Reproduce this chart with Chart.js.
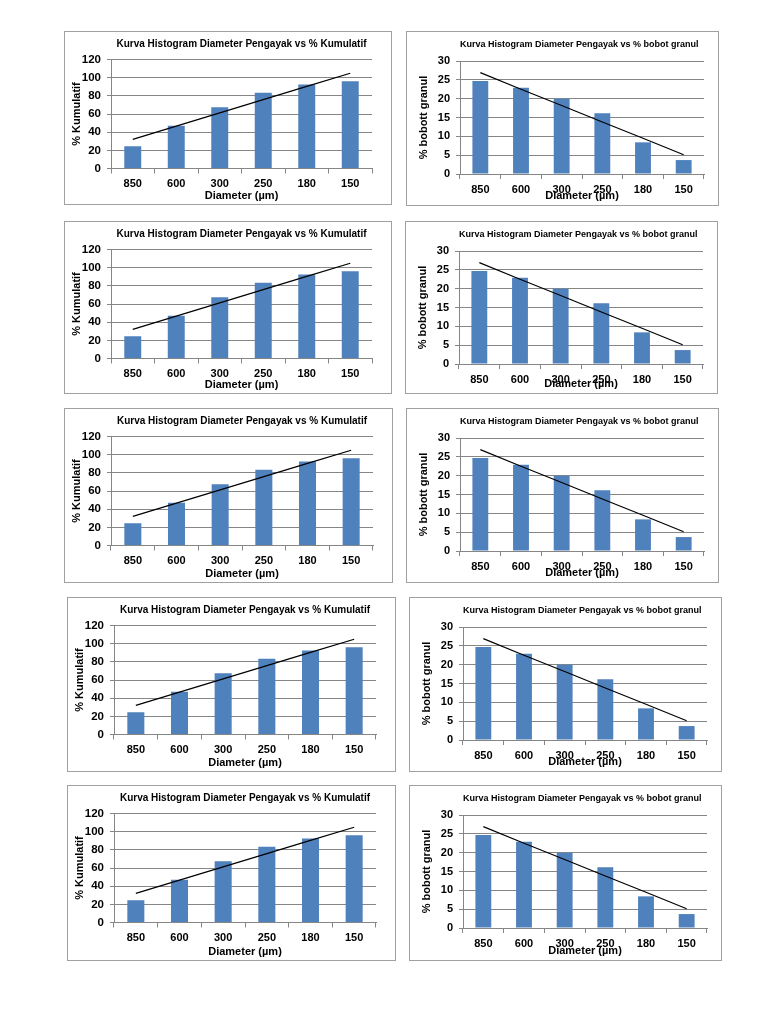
<!DOCTYPE html>
<html><head><meta charset="utf-8">
<script src="https://cdn.jsdelivr.net/npm/chart.js@4.4.0/dist/chart.umd.min.js"></script>
<style>
html,body{margin:0;padding:0;background:#fff;width:768px;height:1024px;overflow:hidden;}
.box{position:absolute;box-shadow:inset 0 0 0 1px #a0a0a0;}
.box canvas{position:absolute;left:0;top:0;}
</style></head><body>
<script>
// ---- data ----
const categories = ['850', '600', '300', '250', '180', '150'];
const kumulatif = [24.5, 47, 67.5, 83.5, 92.5, 96];
const kumulatifTrend = [32.1, 46.7, 61.2, 75.8, 90.4, 104.9];
const bobot = [24.7, 22.9, 20, 16.1, 8.4, 3.7];
const bobotTrend = [26.9, 22.5, 18.2, 13.8, 9.5, 5.1];
const kumulatifTicks = [0, 20, 40, 60, 80, 100, 120];
const bobotTicks = [0, 5, 10, 15, 20, 25, 30];
const titleKumulatif = 'Kurva Histogram Diameter Pengayak vs % Kumulatif';
const titleBobot = 'Kurva Histogram Diameter Pengayak vs % bobot granul';
const xTitle = 'Diameter (µm)';
const yTitleKumulatif = '% Kumulatif';
const yTitleBobot = '% bobott granul';

// ---- layout ----
const boxes = [
  {kind: 'k', x: 64, y: 31, w: 328, h: 174},
  {kind: 'b', x: 406, y: 31, w: 313, h: 175},
  {kind: 'k', x: 64, y: 221, w: 328, h: 173},
  {kind: 'b', x: 405, y: 221, w: 313, h: 173},
  {kind: 'k', x: 64, y: 408, w: 329, h: 175},
  {kind: 'b', x: 406, y: 408, w: 313, h: 175},
  {kind: 'k', x: 67, y: 597, w: 329, h: 175},
  {kind: 'b', x: 409, y: 597, w: 313, h: 175},
  {kind: 'k', x: 67, y: 785, w: 329, h: 176},
  {kind: 'b', x: 409, y: 785, w: 313, h: 176}
];
const kinds = {
  k: {plotLeft: 47, plotRightGap: 20, plotTop: 28.5, plotBottom: 137.5, titleSize: 10, titleCenter: 13,
      titleAlign: 'center', yTitleX: 13, xTitleFromBottom: 9, yTickSize: 11.5, values: kumulatif,
      trend: kumulatifTrend, ticks: kumulatifTicks, title: titleKumulatif, yTitle: yTitleKumulatif},
  b: {plotLeft: 54, plotRightGap: 15, plotTop: 30, plotBottom: 143, titleSize: 9, titleCenter: 13.5,
      titleAlign: 'start', yTitleX: 17.5, xTitleFromBottom: 10, yTickSize: 11, values: bobot,
      trend: bobotTrend, ticks: bobotTicks, title: titleBobot, yTitle: yTitleBobot}
};

const FONT = 'Liberation Sans';
const GRID = '#868686';
Chart.defaults.font.family = FONT;
Chart.defaults.color = '#000';

boxes.forEach(b => {
  const k = kinds[b.kind];
  const div = document.createElement('div');
  div.className = 'box';
  Object.assign(div.style, {left: b.x + 'px', top: b.y + 'px', width: b.w + 'px', height: b.h + 'px'});
  const cv = document.createElement('canvas');
  cv.width = b.w; cv.height = b.h;
  cv.style.width = b.w + 'px'; cv.style.height = b.h + 'px';
  div.appendChild(cv);
  document.body.appendChild(div);

  const tLh = k.titleSize * 1.2;
  const aLh = 11 * 1.2;
  new Chart(cv, {
    type: 'bar',
    data: {
      labels: categories,
      datasets: [
        {type: 'line', data: k.trend, borderColor: '#000', borderWidth: 1.2, pointRadius: 0,
         fill: false, tension: 0, order: 0},
        {type: 'bar', data: k.values, backgroundColor: '#4f81bd', borderWidth: 0,
         barPercentage: 0.39, categoryPercentage: 1, order: 1}
      ]
    },
    options: {
      responsive: false,
      animation: false,
      events: [],
      layout: {padding: {left: 0, right: k.plotRightGap, top: 0, bottom: 0}},
      plugins: {
        legend: {display: false},
        tooltip: {enabled: false},
        title: {
          display: true, text: k.title, color: '#000', fullSize: false, align: k.titleAlign,
          font: {family: FONT, size: k.titleSize, weight: 'bold', lineHeight: 1.2},
          padding: {top: k.titleCenter - tLh / 2, bottom: k.plotTop - k.titleCenter - tLh / 2}
        }
      },
      scales: {
        x: {
          grid: {display: true, drawOnChartArea: false, drawTicks: true, tickLength: 5, color: GRID, offset: true},
          border: {display: true, color: GRID, width: 1},
          ticks: {font: {family: FONT, size: 11, weight: 'bold'}, color: '#000', padding: 4, maxRotation: 0},
          title: {display: true, text: xTitle, color: '#000',
                  font: {family: FONT, size: 11, weight: 'bold', lineHeight: 1.2},
                  padding: {top: 0, bottom: k.xTitleFromBottom - aLh / 2}},
          afterFit: s => { s.height = b.h - k.plotBottom; }
        },
        y: {
          min: k.ticks[0], max: k.ticks[k.ticks.length - 1],
          afterBuildTicks: s => { s.ticks = k.ticks.map(v => ({value: v})); },
          grid: {display: true, drawTicks: true, tickLength: 4, color: GRID, lineWidth: 1},
          border: {display: true, color: GRID, width: 1},
          ticks: {font: {family: FONT, size: k.yTickSize, weight: 'bold'}, color: '#000', padding: 6},
          title: {display: true, text: k.yTitle, color: '#000',
                  font: {family: FONT, size: 11, weight: 'bold', lineHeight: 1.2},
                  padding: {top: k.yTitleX - aLh / 2, bottom: 0}},
          afterFit: s => { s.width = k.plotLeft; }
        }
      }
    }
  });
});
</script>
</body></html>
